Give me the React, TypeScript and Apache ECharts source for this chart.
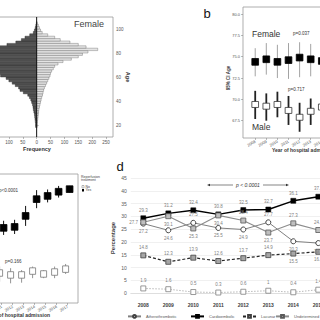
import React, { useEffect, useRef } from "react";
import * as echarts from "echarts";

// ---------- Panel a: age pyramid (2-year bins, bin start ages) ----------
const ageBins = [18, 20, 22, 24, 26, 28, 30, 32, 34, 36, 38, 40, 42, 44, 46, 48, 50, 52, 54, 56, 58, 60, 62, 64, 66, 68, 70, 72, 74, 76, 78, 80, 82, 84, 86, 88, 90, 92, 94, 96, 98, 100, 102, 104];
const femaleFreq = [2, 2, 3, 4, 5, 6, 7, 8, 10, 12, 14, 16, 18, 21, 23, 25, 28, 32, 36, 40, 44, 48, 50, 54, 60, 65, 77, 95, 125, 150, 165, 185, 220, 178, 150, 120, 85, 65, 40, 20, 14, 10, 6, 2];
const maleFreq = [4, 4, 5, 6, 7, 8, 10, 12, 13, 15, 18, 21, 26, 32, 48, 60, 65, 77, 88, 100, 110, 130, 140, 145, 150, 160, 165, 175, 180, 185, 190, 180, 165, 140, 107, 75, 55, 42, 25, 12, 8, 5, 3, 1];
const freqTicks = [-100, -50, 0, 50, 100, 150, 200, 250];
const ageTicks = [20, 40, 60, 80, 100];

// ---------- Panel b: 95% CI of age by sex ----------
const yearsB = [2008, 2009, 2010, 2011, 2012, 2013, 2014];
const femaleMean = [74.4, 74.7, 74.4, 74.6, 74.9, 74.7, 74.5];
const femaleLo = [72.7, 72.9, 72.5, 72.4, 72.6, 72.7, 72.6];
const femaleHi = [76.0, 76.6, 76.4, 76.6, 76.7, 76.5, 76.4];
const maleMean = [69.4, 69.2, 69.4, 68.7, 67.9, 68.6, 69.1];
const maleLo = [67.7, 67.5, 67.9, 67.0, 66.2, 67.0, 67.5];
const maleHi = [71.0, 70.7, 70.9, 70.4, 69.6, 70.1, 70.6];
const ageCiTicks = [67.5, 70, 72.5, 75, 77.5, 80];
const yearTicksB = [2008, 2009, 2010, 2011, 2012, 2013, 2014, 2015, 2016, 2017];

// ---------- Panel c: reperfusion treatment ----------
const yearsC = [2011, 2012, 2013, 2014, 2015, 2016, 2017];
const yesMean = [23.3, 23.6, 27.0, 32.2, 33.2, 34.5, 35.3];
const yesLo = [21.1, 21.4, 23.9, 29.4, 31.2, 32.7, 34.3];
const yesHi = [25.5, 25.8, 30.1, 35.0, 35.2, 36.3, 36.3];
const noMean = [9.3, 8.7, 8.7, 9.9, 9.0, 9.6, 10.5];
const noLo = [6.6, 6.1, 6.3, 7.7, 7.7, 7.7, 9.0];
const noHi = [11.3, 10.8, 10.2, 11.3, 10.2, 11.3, 12.1];

// ---------- Panel d: stroke subtype percentages ----------
const yearsD = ["2008", "2009", "2010", "2011", "2012", "2013", "2014", "2015"];
const subtypeNames = ["Atherothrombotic", "Cardioembolic", "Lacunar", "Undetermined", "Unusual"];
const athero = [27.2, 24.6, 27.5, 25.5, 24.9, 27.7, 20.3, 19.6];
const cardio = [29.3, 31.2, 32.4, 30.8, 32.5, 32.7, 36.1, 37.7];
const lacunar = [14.8, 12.3, 13.9, 12.6, 13.7, 14.9, 15.5, 16.2];
const undet = [27.7, 30.1, 25.3, 30.4, 28.4, 23.7, 27.3, 24.7];
const unusual = [1.9, 1.6, 0.5, 0.3, 0.6, 1, 0.4, 1.4];
const atheroPos = ["bottom", "bottom", "top", "bottom", "bottom", "top", "bottom", "bottom"];
const undetPos = ["left", "bottom", "bottom", "bottom", "top", "bottom", "top", "top"];
const lacunarPos = ["top", "top", "top", "top", "top", "top", "bottom", "bottom"];
const legendLefts = [127, 190, 242, 275, 335];

const FONT = "Liberation Sans, Arial, sans-serif";

function ciRender(fillColor: string, strokeColor: string, whiskerColor: string, whiskerWidth: number, w: number, h: number, dx: number) {
  return (params: any, api: any) => {
    const x = api.value(0);
    const m = api.coord([x, api.value(1)]);
    const lo = api.coord([x, api.value(2)]);
    const hi = api.coord([x, api.value(3)]);
    return {
      type: "group",
      children: [
        { type: "line", shape: { x1: lo[0] + dx, y1: lo[1], x2: hi[0] + dx, y2: hi[1] }, style: { stroke: whiskerColor, lineWidth: whiskerWidth } },
        { type: "rect", shape: { x: m[0] + dx - w / 2, y: m[1] - h / 2, width: w, height: h }, style: { fill: fillColor, stroke: strokeColor, lineWidth: 0.8 } },
      ],
    };
  };
}

function pyramidRender(fill: string, stroke: string) {
  return (params: any, api: any) => {
    const age = api.value(0);
    const v = api.value(1);
    const p0 = api.coord([0, age + 2]);
    const p1 = api.coord([v, age]);
    return {
      type: "rect",
      shape: { x: Math.min(p0[0], p1[0]), y: p0[1], width: Math.abs(p1[0] - p0[0]), height: p1[1] - p0[1] },
      style: { fill, stroke, lineWidth: 0.4 },
    };
  };
}

const labelsWithPos = (vals: number[], pos: string[] | null) =>
  vals.map((v, i) => ({ value: v, label: { position: pos ? pos[i] : "top" } }));

export default function App() {
  const ref = useRef<HTMLDivElement>(null);
  useEffect(() => {
    if (!ref.current) return;
    const chart = echarts.init(ref.current, undefined, { renderer: "svg" });
    const smallAxisLabel = { fontSize: 4.5, color: "#555", fontFamily: FONT };
    const gridBase = { show: true, borderColor: "#999", borderWidth: 0.8, backgroundColor: "transparent", outerBoundsMode: "none", containLabel: false };
    const option: any = {
      animation: false,
      backgroundColor: "#fff",
      textStyle: { fontFamily: FONT },
      grid: [
        { ...gridBase, left: -5, top: 17, width: 118, height: 120 },
        { ...gridBase, left: 243, top: 7, width: 124.3, height: 131 },
        { ...gridBase, left: -5, top: 174, width: 83, height: 129 },
        { ...gridBase, show: false, left: 130.8, top: 178, width: 200, height: 115.3 },
      ],
      xAxis: [
        {
          gridIndex: 0, type: "value", min: -150, max: 275,
          axisLine: { show: false }, splitLine: { show: false },
          axisTick: { show: true, customValues: freqTicks, length: 2, lineStyle: { color: "#777", width: 0.5 } },
          axisLabel: { ...smallAxisLabel, margin: 2.5, customValues: freqTicks, formatter: (v: number) => String(Math.abs(v)) },
        },
        {
          gridIndex: 1, type: "value", min: 2006.9, max: 2018.1,
          axisLine: { show: false }, splitLine: { show: false },
          axisTick: { show: true, customValues: yearTicksB, length: 2, lineStyle: { color: "#777", width: 0.5 } },
          axisLabel: { ...smallAxisLabel, fontSize: 4, rotate: 30, margin: 3, customValues: yearTicksB, formatter: (v: number) => String(v) },
        },
        {
          gridIndex: 2, type: "value", min: 2010.4, max: 2017.945,
          axisLine: { show: false }, splitLine: { show: false },
          axisTick: { show: true, customValues: yearsC, length: 2, lineStyle: { color: "#777", width: 0.5 } },
          axisLabel: { ...smallAxisLabel, fontSize: 4, rotate: 30, margin: 3, customValues: yearsC, formatter: (v: number) => String(v) },
        },
        {
          gridIndex: 3, type: "category", data: yearsD, boundaryGap: true,
          axisLine: { show: true, lineStyle: { color: "#d9d9d9", width: 0.8 } },
          axisTick: { show: false },
          axisLabel: { fontSize: 5, fontWeight: "bold", color: "#404040", margin: 9, fontFamily: FONT },
        },
      ],
      yAxis: [
        {
          gridIndex: 0, type: "value", min: 10, max: 110, position: "right",
          axisLine: { show: false }, splitLine: { show: false },
          axisTick: { show: true, customValues: ageTicks, length: 2, lineStyle: { color: "#777", width: 0.5 } },
          axisLabel: { ...smallAxisLabel, margin: 3, customValues: ageTicks },
        },
        {
          gridIndex: 1, type: "value", min: 65.47, max: 80.83,
          axisLine: { show: false }, splitLine: { show: false },
          axisTick: { show: true, customValues: ageCiTicks, length: 2, lineStyle: { color: "#777", width: 0.5 } },
          axisLabel: { ...smallAxisLabel, fontSize: 4, margin: 3, customValues: ageCiTicks, formatter: (v: number) => v.toFixed(1) },
        },
        {
          gridIndex: 2, type: "value", min: 0, max: 40,
          axisLine: { show: false }, splitLine: { show: false }, axisTick: { show: false }, axisLabel: { show: false },
        },
        {
          gridIndex: 3, type: "value", min: 0, max: 45, interval: 5,
          axisLine: { show: false }, axisTick: { show: false },
          splitLine: { show: true, lineStyle: { color: "#e6e6e6", width: 0.6 } },
          axisLabel: { fontSize: 5, color: "#595959", margin: 4, fontFamily: FONT },
        },
      ],
      legend: subtypeNames.map((n, i) => ({
        left: legendLefts[i], top: 314, padding: 0, itemWidth: 13, itemHeight: 3.5, itemGap: 0,
        textStyle: { fontSize: 4, color: "#595959", fontFamily: FONT },
        data: [n],
      })),
      series: [
        // panel a
        {
          type: "custom", xAxisIndex: 0, yAxisIndex: 0, clip: true,
          data: ageBins.map((a, i) => [a, -maleFreq[i]]),
          renderItem: pyramidRender("#555", "#222"),
          encode: { x: 1, y: 0 },
        },
        {
          type: "custom", xAxisIndex: 0, yAxisIndex: 0, clip: true,
          data: ageBins.map((a, i) => [a, femaleFreq[i]]),
          renderItem: pyramidRender("#e4e4e4", "#666"),
          encode: { x: 1, y: 0 },
        },
        {
          type: "custom", xAxisIndex: 0, yAxisIndex: 0,
          data: [[0]],
          renderItem: (params: any, api: any) => {
            const a = api.coord([0, 10]);
            const b = api.coord([0, 110]);
            return { type: "line", shape: { x1: a[0], y1: a[1], x2: b[0], y2: b[1] }, style: { stroke: "#111", lineWidth: 1 } };
          },
        },
        // panel b
        {
          type: "custom", xAxisIndex: 1, yAxisIndex: 1, clip: true,
          data: yearsB.map((y, i) => [y, femaleMean[i], femaleLo[i], femaleHi[i]]),
          renderItem: ciRender("#000", "#000", "#999", 0.9, 6.7, 6.7, 0),
          encode: { x: 0, y: 1 },
        },
        {
          type: "custom", xAxisIndex: 1, yAxisIndex: 1, clip: true,
          data: yearsB.map((y, i) => [y, maleMean[i], maleLo[i], maleHi[i]]),
          renderItem: ciRender("#fff", "#333", "#222", 1.8, 6.7, 6, 0),
          encode: { x: 0, y: 1 },
        },
        // panel c
        {
          type: "custom", xAxisIndex: 2, yAxisIndex: 2, clip: true,
          data: yearsC.map((y, i) => [y, noMean[i], noLo[i], noHi[i]]),
          renderItem: ciRender("#fff", "#777", "#777", 0.8, 6, 6.5, -2),
          encode: { x: 0, y: 1 },
        },
        {
          type: "custom", xAxisIndex: 2, yAxisIndex: 2, clip: true,
          data: yearsC.map((y, i) => [y, yesMean[i], yesLo[i], yesHi[i]]),
          renderItem: ciRender("#000", "#000", "#111", 1, 6.7, 6.7, 2),
          encode: { x: 0, y: 1 },
        },
        // panel d
        {
          name: subtypeNames[0], type: "line", xAxisIndex: 3, yAxisIndex: 3,
          data: labelsWithPos(athero, atheroPos),
          symbol: "circle", symbolSize: 5,
          lineStyle: { color: "#808080", width: 1 },
          itemStyle: { color: "#fff", borderColor: "#404040", borderWidth: 1 },
          label: { show: true, fontSize: 4.5, color: "#7f7f7f", distance: 2.5 },
        },
        {
          name: subtypeNames[1], type: "line", xAxisIndex: 3, yAxisIndex: 3,
          data: labelsWithPos(cardio, null),
          symbol: "rect", symbolSize: 5,
          lineStyle: { color: "#000", width: 1.4 },
          itemStyle: { color: "#000", borderColor: "#000", borderWidth: 0.5 },
          label: { show: true, fontSize: 4.5, color: "#7f7f7f", distance: 2.5 },
        },
        {
          name: subtypeNames[2], type: "line", xAxisIndex: 3, yAxisIndex: 3,
          data: labelsWithPos(lacunar, lacunarPos),
          symbol: "rect", symbolSize: 5,
          lineStyle: { color: "#262626", width: 1.2, type: [3, 2] },
          itemStyle: { color: "#a6a6a6", borderColor: "#404040", borderWidth: 0.8 },
          label: { show: true, fontSize: 4.5, color: "#7f7f7f", distance: 2.5 },
        },
        {
          name: subtypeNames[3], type: "line", xAxisIndex: 3, yAxisIndex: 3,
          data: labelsWithPos(undet, undetPos),
          symbol: "rect", symbolSize: 5,
          lineStyle: { color: "#8c8c8c", width: 1.1 },
          itemStyle: { color: "#bfbfbf", borderColor: "#595959", borderWidth: 0.8 },
          label: { show: true, fontSize: 4.5, color: "#7f7f7f", distance: 2.5 },
        },
        {
          name: subtypeNames[4], type: "line", xAxisIndex: 3, yAxisIndex: 3,
          data: labelsWithPos(unusual, null),
          symbol: "rect", symbolSize: 5,
          lineStyle: { color: "#a6a6a6", width: 0.8, type: [1.5, 1.5] },
          itemStyle: { color: "#fff", borderColor: "#7f7f7f", borderWidth: 0.8 },
          label: { show: true, fontSize: 4.5, color: "#7f7f7f", distance: 3 },
        },
      ],
      graphic: [
        // panel a texts
        { type: "text", left: 74, top: 19, style: { text: "Female", fontSize: 9, fill: "#444", fontFamily: FONT } },
        { type: "text", x: 37, y: 148.5, style: { text: "Frequency", fontSize: 5.5, fontWeight: "bold", fill: "#333", fontFamily: FONT, align: "center", verticalAlign: "middle" } },
        { type: "text", x: 127.5, y: 77, rotation: -Math.PI / 2, style: { text: "Age", fontSize: 5.5, fontWeight: "bold", fill: "#333", fontFamily: FONT, align: "center", verticalAlign: "middle" } },
        // panel b texts
        { type: "text", x: 207, y: 13, style: { text: "b", fontSize: 13, fill: "#111", fontFamily: FONT, align: "center", verticalAlign: "middle" } },
        { type: "text", x: 252, y: 34, style: { text: "Female", fontSize: 8.5, fill: "#333", fontFamily: FONT, verticalAlign: "middle" } },
        { type: "text", x: 293, y: 33, style: { text: "p=0.037", fontSize: 4.5, fill: "#333", fontFamily: FONT, verticalAlign: "middle" } },
        { type: "text", x: 288, y: 89, style: { text: "p=0.717", fontSize: 4.5, fill: "#333", fontFamily: FONT, verticalAlign: "middle" } },
        { type: "text", x: 252, y: 127, style: { text: "Male", fontSize: 8.5, fill: "#333", fontFamily: FONT, verticalAlign: "middle" } },
        { type: "text", x: 228, y: 78, rotation: Math.PI / 2, style: { text: "95% CI Age", fontSize: 4.5, fontWeight: "bold", fill: "#333", fontFamily: FONT, align: "center", verticalAlign: "middle" } },
        { type: "text", x: 272, y: 150, style: { text: "Year of hospital admission", fontSize: 5, fontWeight: "bold", fill: "#333", fontFamily: FONT, verticalAlign: "middle" } },
        // panel c texts
        { type: "text", x: 18, y: 190, style: { text: "p<0.0001", fontSize: 4.5, fill: "#333", fontFamily: FONT, align: "right", verticalAlign: "middle" } },
        { type: "text", x: 5, y: 261, style: { text: "p=0.166", fontSize: 4.5, fill: "#333", fontFamily: FONT, verticalAlign: "middle" } },
        { type: "text", x: 50, y: 315, style: { text: "Year of hospital admission", fontSize: 5, fontWeight: "bold", fill: "#333", fontFamily: FONT, align: "right", verticalAlign: "middle" } },
        { type: "text", x: 81, y: 176.5, style: { text: "Reperfusion", fontSize: 3.5, fill: "#444", fontFamily: FONT, verticalAlign: "middle" } },
        { type: "text", x: 81, y: 180, style: { text: "treatment", fontSize: 3.5, fill: "#444", fontFamily: FONT, verticalAlign: "middle" } },
        { type: "rect", shape: { x: 82, y: 185.5, width: 2, height: 2.5 }, style: { fill: "#fff", stroke: "#555", lineWidth: 0.4 } },
        { type: "text", x: 85.5, y: 186.8, style: { text: "No", fontSize: 3.5, fill: "#444", fontFamily: FONT, verticalAlign: "middle" } },
        { type: "rect", shape: { x: 82, y: 189, width: 2, height: 2.5 }, style: { fill: "#000" } },
        { type: "text", x: 85.5, y: 190.3, style: { text: "Yes", fontSize: 3.5, fill: "#444", fontFamily: FONT, verticalAlign: "middle" } },
        // panel d texts
        { type: "text", x: 120, y: 166, style: { text: "d", fontSize: 13, fill: "#111", fontFamily: FONT, align: "center", verticalAlign: "middle" } },
        { type: "text", x: 113, y: 238, rotation: Math.PI / 2, style: { text: "Percentage", fontSize: 6, fontWeight: "bold", fill: "#404040", fontFamily: FONT, align: "center", verticalAlign: "middle" } },
        { type: "line", shape: { x1: 209, y1: 185, x2: 233, y2: 185 }, style: { stroke: "#333", lineWidth: 0.6 } },
        { type: "line", shape: { x1: 263, y1: 185, x2: 287, y2: 185 }, style: { stroke: "#333", lineWidth: 0.6 } },
        { type: "polygon", shape: { points: [[207, 185], [210, 183.8], [210, 186.2]] }, style: { fill: "#333" } },
        { type: "polygon", shape: { points: [[289, 185], [286, 183.8], [286, 186.2]] }, style: { fill: "#333" } },
        { type: "text", x: 248, y: 185, style: { text: "p < 0.0001", fontSize: 5, fontStyle: "italic", fill: "#333", fontFamily: FONT, align: "center", verticalAlign: "middle" } },
      ],
    };
    chart.setOption(option);
    return () => chart.dispose();
  }, []);
  return <div ref={ref} style={{ position: "fixed", left: 0, top: 0, width: 320, height: 320, background: "#fff" }} />;
}
